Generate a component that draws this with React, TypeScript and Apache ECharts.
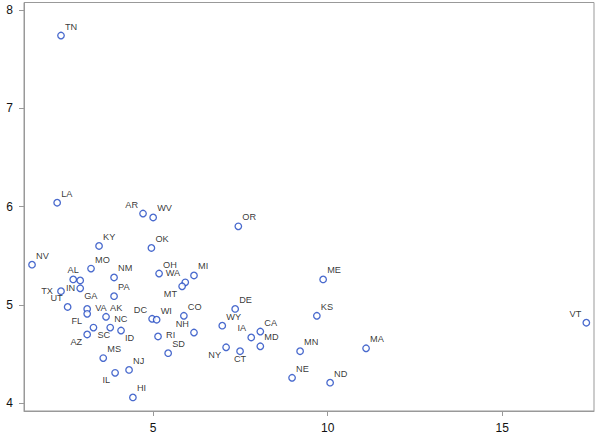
import React, { useEffect, useRef } from 'react';
import * as echarts from 'echarts';

// state codes and their values
const states = [
  'TN', 'LA', 'AR', 'WV', 'OR', 'NV', 'KY', 'OK', 'MO', 'AL', 'IN', 'GA', 'NM',
  'OH', 'WA', 'MT', 'MI', 'TX', 'PA', 'UT', 'VA', 'FL', 'AK', 'DC', 'WI', 'CO',
  'NH', 'SC', 'NC', 'ID', 'AZ', 'RI', 'SD', 'MS', 'NJ', 'IL', 'HI', 'WY', 'DE',
  'NY', 'CT', 'IA', 'CA', 'MD', 'MN', 'NE', 'ND', 'ME', 'KS', 'MA', 'VT',
];
const xValues = [
  2.36, 2.25, 4.71, 5.0, 7.44, 1.53, 3.45, 4.95, 3.22, 2.71, 2.91, 2.91, 3.88,
  5.17, 5.92, 5.83, 6.17, 2.36, 3.88, 2.55, 3.11, 3.11, 3.65, 4.97, 5.1, 5.88,
  6.17, 3.29, 3.77, 4.08, 3.11, 5.14, 5.43, 3.57, 4.31, 3.91, 4.42, 6.98, 7.35,
  7.09, 7.49, 7.81, 8.07, 8.07, 9.21, 8.98, 10.07, 9.87, 9.69, 11.1, 17.41,
];
const yValues = [
  7.74, 6.04, 5.93, 5.89, 5.8, 5.41, 5.6, 5.58, 5.37, 5.26, 5.25, 5.17, 5.28,
  5.32, 5.23, 5.19, 5.3, 5.14, 5.09, 4.98, 4.96, 4.91, 4.88, 4.86, 4.85, 4.89,
  4.72, 4.77, 4.77, 4.74, 4.7, 4.68, 4.51, 4.46, 4.34, 4.31, 4.06, 4.79, 4.96,
  4.57, 4.53, 4.67, 4.73, 4.58, 4.53, 4.26, 4.21, 5.26, 4.89, 4.56, 4.82,
];
// where each label sits around its marker
const placement = [
  'tr', 'tr', 'tl', 'tr', 'tr', 'tr', 'tr', 'tr', 'tr', 't', 'bl', 'br', 'tr',
  'tr', 'tl', 'bl', 'tr', 'l', 'tr', 'tl', 'r', 'bl', 'tr', 'tl', 'tr', 'tr',
  'tl', 'br', 'tr', 'br', 'bl', 'r', 'tr', 'tr', 'tr', 'bl', 'tr', 'tr', 'tr',
  'bl', 'b', 'tl', 'tr', 'tr', 'tr', 'tr', 'tr', 'tr', 'tr', 'tr', 'tl',
];
const xTicks = [5, 10, 15];
const yTicks = [4, 5, 6, 7, 8];

const placeStyle: Record<string, { align: string; offset: number[] }> = {
  tr: { align: 'left', offset: [4, -9] },
  tl: { align: 'right', offset: [-5, -9] },
  br: { align: 'left', offset: [4, 7.5] },
  bl: { align: 'right', offset: [-5, 7.5] },
  r: { align: 'left', offset: [8, -1] },
  l: { align: 'right', offset: [-8, 0] },
  t: { align: 'center', offset: [0, -9] },
  b: { align: 'center', offset: [0, 7.5] },
};

const FONT = '"Liberation Sans", Arial, sans-serif';

const App: React.FC = () => {
  const chartRef = useRef<HTMLDivElement>(null);

  useEffect(() => {
    if (!chartRef.current) return;
    const chart = echarts.init(chartRef.current, undefined, { renderer: 'svg' });

    const data = states.map((s, i) => ({
      name: s,
      value: [xValues[i], yValues[i]],
      label: {
        show: true,
        position: 'inside',
        verticalAlign: 'middle',
        ...placeStyle[placement[i]],
      },
    }));

    const axisCommon = {
      type: 'value' as const,
      splitLine: { show: false },
      axisLine: { show: true, lineStyle: { color: '#999', width: 1 } },
      axisTick: { show: true, length: 5, lineStyle: { color: '#999' } },
    };

    chart.setOption({
      animation: false,
      grid: {
        left: 24, right: 1, top: 2.5, bottom: 29,
        show: true, borderColor: '#999', borderWidth: 1,
      },
      xAxis: {
        ...axisCommon,
        min: 1.3,
        max: 17.63,
        axisTick: { ...axisCommon.axisTick, customValues: xTicks },
        axisLabel: {
          customValues: xTicks, margin: 11,
          color: '#111', fontSize: 12, fontFamily: FONT,
        },
      },
      yAxis: {
        ...axisCommon,
        min: 3.922,
        max: 8.076,
        axisTick: { ...axisCommon.axisTick, customValues: yTicks },
        axisLabel: {
          customValues: yTicks, margin: 11,
          color: '#111', fontSize: 12, fontFamily: FONT,
        },
      },
      series: [
        {
          type: 'scatter',
          symbol: 'circle',
          symbolSize: 6.5,
          itemStyle: { color: '#fff', borderColor: '#1a44c0', borderWidth: 1.3 },
          label: {
            show: true,
            formatter: '{b}',
            color: '#000',
            textBorderWidth: 0,
            fontSize: 9.2,
            lineHeight: 9,
            fontFamily: FONT,
          },
          data,
        },
      ],
    });

    return () => chart.dispose();
  }, []);

  return (
    <div
      ref={chartRef}
      style={{ position: 'fixed', left: 0, top: 0, width: 595, height: 440, background: '#fff' }}
    />
  );
};

export default App;
